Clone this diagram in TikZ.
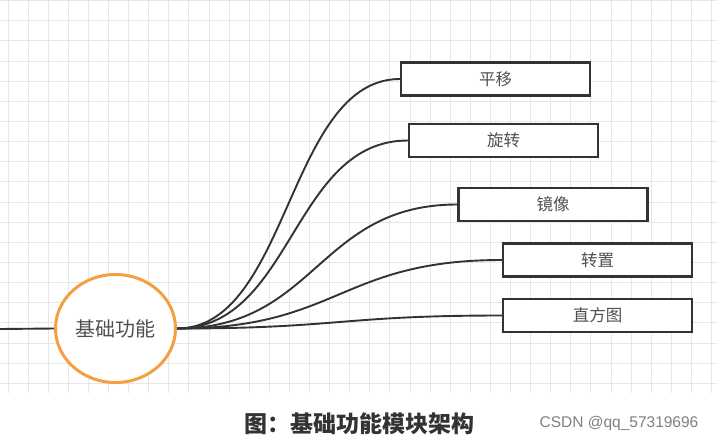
\documentclass[tikz,border=0pt]{standalone}
\usepackage{fontspec}
\newfontfamily\cjk{Noto Sans CJK SC}
\newfontfamily\wm{Liberation Sans}
\usetikzlibrary{shapes.geometric}
\definecolor{gridc}{HTML}{E6E6E6}
\definecolor{edgec}{HTML}{333333}
\definecolor{orangec}{HTML}{F4A042}
\definecolor{txtc}{HTML}{505050}
\definecolor{capc}{HTML}{333333}
\definecolor{wmc}{HTML}{808080}
\begin{document}
\begin{tikzpicture}[x=1pt,y=-1pt,
  leaf/.style={draw=edgec, line width=2.2pt, fill=white, minimum width=189pt,
    minimum height=33pt, inner sep=0pt, text=txtc,
    font=\cjk\fontsize{16.5}{17}\selectfont},
  link/.style={draw=edgec, line width=1.9pt},
  gridline/.style={draw=gridc, line width=0.9pt}]
\fill[white] (0,0) rectangle (717,445);
\useasboundingbox (0,0) rectangle (717,445);
% grid
\foreach \i in {0,...,35} \draw[gridline] ({8+20.1*\i},0) -- ({8+20.1*\i},393);
\foreach \j in {0,...,19} \draw[gridline] (0,{0.5+20.15*\j}) -- (717,{0.5+20.15*\j});
% root
\node[ellipse, draw=orangec, line width=3pt, fill=white, minimum width=120pt,
  minimum height=108pt, inner sep=0pt, text=txtc,
  font=\cjk\fontsize{20}{20}\selectfont] (root) at (115.5,328.5) {基础功能};
\coordinate (L) at (0,329);
% leaves
\node[leaf] (a) at (495.5,79) {平移};
\node[leaf] (b) at (503.5,140.5) {旋转};
\node[leaf] (c) at (553,204.5) {镜像};
\node[leaf] (d) at (597.5,260) {转置};
\node[leaf] (e) at (597.5,315.5) {直方图};
% links
\draw[link] (L) -- (root.west);
\draw[link] (root.east) .. controls +(112,0) and +(-112,0) .. (a.west);
\draw[link] (root.east) .. controls +(116,0) and +(-116,0) .. (b.west);
\draw[link] (root.east) .. controls +(140,0) and +(-140,0) .. (c.west);
\draw[link] (root.east) .. controls +(162,0) and +(-162,0) .. (d.west);
\draw[link] (root.east) .. controls +(162,0) and +(-162,0) .. (e.west);
% caption
\node[text=capc, font=\cjk\bfseries\fontsize{23}{23}\selectfont] (cap) at (359,424) {图：基础功能模块架构};
\node[text=wmc, font=\wm\fontsize{15.5}{16}\selectfont] (wmk) at (619,423) {CSDN @qq\_57319696};
\end{tikzpicture}
\end{document}
